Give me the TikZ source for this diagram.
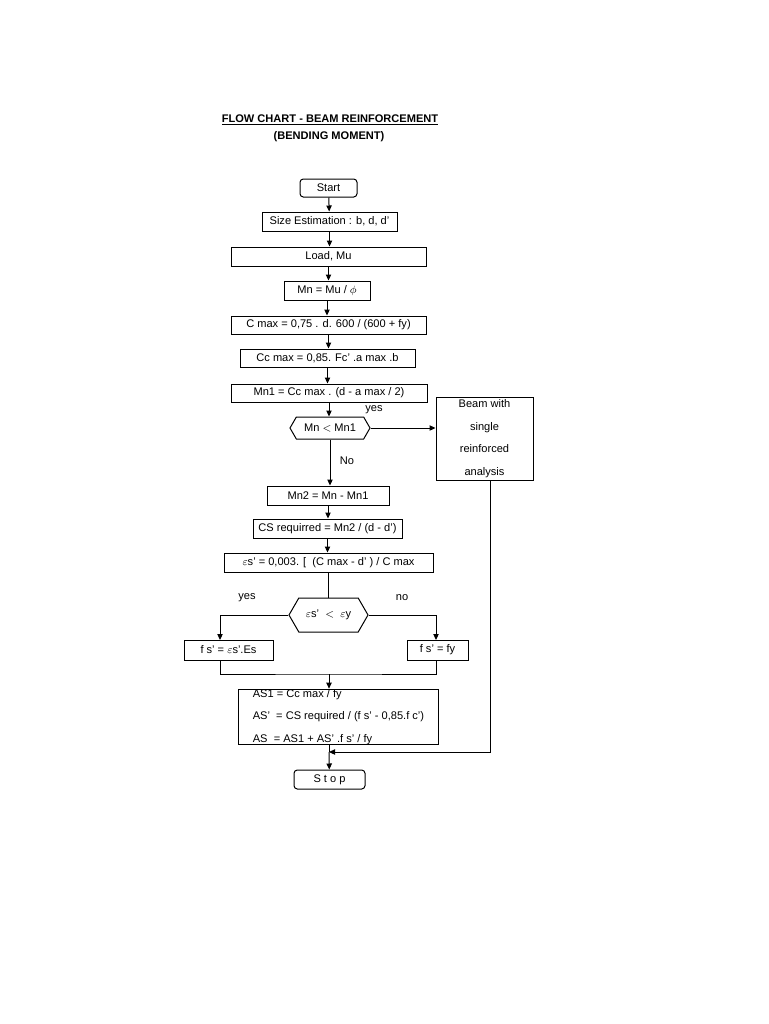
\documentclass[tikz,border=0pt]{standalone}
\usepackage{fontspec}
\setmainfont{Liberation Sans}
\usetikzlibrary{shapes.symbols,arrows.meta}
\begin{document}
\begin{tikzpicture}[x=0.75pt,y=-0.75pt,
  every node/.style={font=\fontsize{8.3}{10}\selectfont},
  box/.style={draw,line width=0.75pt,inner sep=0pt},
  hex/.style={draw,line width=0.75pt,shape=signal,signal to=east and west,signal pointer angle=120,inner sep=0pt},
  arr/.style={-{Triangle[length=4.5pt,width=4pt]},line width=0.75pt},
  ln/.style={line width=0.75pt}]
\useasboundingbox (0,0) rectangle (768,1024);
\node (t1) at (330,120) {\textbf{\underline{FLOW CHART - BEAM REINFORCEMENT}}};
\node (t2) at (329,137) {\textbf{(BENDING MOMENT)}};
\node[box,rounded corners=2.5pt,minimum width=57*0.75pt,minimum height=18*0.75pt] (start) at (328.5,188) {Start};
\node[box,minimum width=135*0.75pt,minimum height=19*0.75pt] (size) at (329.5,221.5) {Size Estimation : b, d, d'};
\node[box,minimum width=195*0.75pt,minimum height=19*0.75pt] (load) at (328.5,256.5) {Load, Mu};
\node[box,minimum width=86*0.75pt,minimum height=19*0.75pt] (mn) at (327,290.5) {Mn = Mu / $\phi$};
\node[box,minimum width=195*0.75pt,minimum height=18*0.75pt] (cmax) at (328.5,325) {C max = 0,75 . d. 600 / (600 + fy)};
\node[box,minimum width=175*0.75pt,minimum height=18*0.75pt] (cc) at (327.5,358) {Cc max = 0,85. Fc' .a max .b};
\node[box,minimum width=196*0.75pt,minimum height=18*0.75pt] (mn1) at (329,393) {Mn1 = Cc max . (d - a max / 2)};
\node[hex,minimum width=80*0.75pt,minimum height=22*0.75pt] (d1) at (330,428) {Mn $<$ Mn1};
\node[box,minimum width=97*0.75pt,minimum height=83*0.75pt,align=center,font=\fontsize{8.3}{17}\selectfont] (beam) at (484.5,438.5) {Beam with\\single\\reinforced\\analysis};
\node[box,minimum width=122*0.75pt,minimum height=19*0.75pt] (mn2) at (328,495.5) {Mn2 = Mn - Mn1};
\node[box,minimum width=149*0.75pt,minimum height=19*0.75pt] (cs) at (327.5,528.5) {CS requirred = Mn2 / (d - d')};
\node[box,minimum width=209*0.75pt,minimum height=19*0.75pt] (es) at (328.5,562.5) {$\varepsilon$s' = 0,003. [\ \ (C max - d' ) / C max};
\node[hex,minimum width=79*0.75pt,minimum height=34*0.75pt] (d2) at (328.5,615) {$\varepsilon$s'\ \ $<$\ \ $\varepsilon$y};
\node[box,minimum width=89*0.75pt,minimum height=20*0.75pt] (fs1) at (228.5,650) {f s' = $\varepsilon$s'.Es};
\node[box,minimum width=61*0.75pt,minimum height=20*0.75pt] (fs2) at (437.5,650) {f s' = fy};
\node[box,minimum width=200*0.75pt,minimum height=54*0.75pt,align=left,anchor=west,font=\fontsize{8.3}{17}\selectfont,inner xsep=7pt] (as) at (238,717) {AS1 = Cc max / fy\\AS'\ \ = CS required / (f s' - 0,85.f c')\\AS\ \ = AS1 + AS' .f s' / fy};
\node[box,rounded corners=2.5pt,minimum width=71*0.75pt,minimum height=19*0.75pt] (stop) at (329.5,779.5) {S t o p};
\node (yes1) at (374,410) {yes};
\node (no1) at (347,461) {No};
\node (yes2) at (247,598) {yes};
\node (no2) at (402,598) {no};
\coordinate (m) at (329,674);
\coordinate (j) at (329,752);
\draw[arr] (start) -- (size);
\draw[arr] (size) -- (size|-load.north);
\draw[arr] (load) -- (load|-mn.north);
\draw[arr] (mn) -- (mn|-cmax.north);
\draw[arr] (cmax) -- (cmax|-cc.north);
\draw[arr] (cc) -- (cc|-mn1.north);
\draw[arr] (mn1) -- (mn1|-d1.north);
\draw[arr] (d1.east) -- (beam.west|-d1.east);
\draw[arr] (d1.south) -- (d1|-mn2.north);
\draw[arr] (mn2) -- (mn2|-cs.north);
\draw[arr] (cs) -- (cs|-es.north);
\draw[ln] (es.south) -- (es|-d2.north);
\draw[arr] (d2.west) -| (220,640);
\draw[arr] (d2.east) -| (436,640);
\draw[ln] (220,660) |- (m) -| (436,660);
\draw[arr] (m) -- (m|-as.north);
\draw[ln] (as.south-|m) -- (j);
\draw[arr] (490,480) |- (j);
\draw[arr] (j) -- (stop);
\end{tikzpicture}
\end{document}
